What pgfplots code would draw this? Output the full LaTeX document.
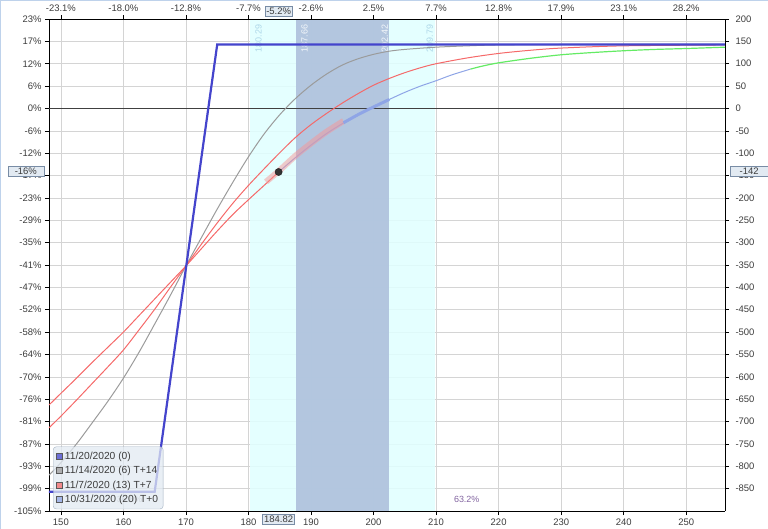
\documentclass[border=0pt]{standalone}
\usepackage{pgfplots}
\pgfplotsset{compat=1.18}
\usepackage{fontspec}
\setmainfont{Liberation Sans}
\definecolor{expblue}{RGB}{68,68,204}
\definecolor{tgray}{RGB}{155,155,155}
\definecolor{tred}{RGB}{245,105,105}
\definecolor{tlblue}{RGB}{143,165,230}
\definecolor{tgreen}{RGB}{100,235,100}
\definecolor{bandlight}{RGB}{224,255,255}
\definecolor{banddark}{RGB}{176,196,222}
\definecolor{gridc}{RGB}{212,212,212}
\definecolor{labc}{RGB}{60,60,60}
\definecolor{boxfill}{RGB}{226,234,242}
\definecolor{boxdraw}{RGB}{120,140,165}
\definecolor{framec}{RGB}{190,210,235}
\definecolor{probc}{RGB}{130,100,160}

\pgfplotsset{
 common/.style={
  scale only axis, width=676bp, height=492bp,
  xmin=148.1, xmax=256.2, ymin=-900, ymax=200,
  tick align=outside, major tick length=4bp,
  tick style={black, line width=0.6pt},
  axis line style={black, line width=0.8pt},
  ticklabel style={font=\fontsize{9.5}{10}\selectfont, text=labc},
  /pgf/number format/assume math mode=true,
 },
 swatch/.style={legend image code/.code={
   \draw[sharp corners, fill=#1, draw=black!65, line width=0.6bp] (0bp,-3bp) rectangle (6bp,3bp);}},
}

\begin{document}
\begin{tikzpicture}
\begin{axis}[common,
  axis x line*=bottom, axis y line*=left,
  xtick={150,160,...,250},
  ytick={-900,-850,...,200},
  yticklabels={-105\%,-99\%,-93\%,-87\%,-81\%,-76\%,-70\%,-64\%,-58\%,-52\%,-47\%,-41\%,-35\%,-29\%,-23\%,-17\%,-12\%,-6\%,0\%,6\%,12\%,17\%,23\%},
  grid=major, grid style={gridc, line width=0.6pt},
  legend cell align=left,
  legend style={at={(axis cs:148.75,-756)}, anchor=north west,
    draw=boxdraw!70, fill=boxfill, fill opacity=0.75, text opacity=1,
    rounded corners=3bp, font=\fontsize{10.3}{12}\selectfont, text=labc,
    row sep=1.5bp, inner xsep=3bp, inner ysep=3bp},
]
% standard deviation bands
\addplot[draw=none, fill=bandlight, fill opacity=0.88, forget plot]
  coordinates {(180.29,-900) (209.79,-900) (209.79,200) (180.29,200)} -- cycle;
\addplot[draw=none, fill=banddark, fill opacity=0.95, forget plot]
  coordinates {(187.66,-900) (202.42,-900) (202.42,200) (187.66,200)} -- cycle;

% zero line
\addplot[black!75, line width=1.2bp, forget plot] coordinates {(148.1,0) (256.2,0)};

% probability labels
\node[font=\fontsize{9}{10}\selectfont, text=black!35] at (axis cs:161.0,-875) {36.8\%};
\node[font=\fontsize{9}{10}\selectfont, text=probc] at (axis cs:214.9,-875) {63.2\%};

% band labels
\node[rotate=90, anchor=east, font=\fontsize{9}{10}\selectfont, text=black!25!cyan!35!white] at (axis cs:181.6,195) {180.29};
\node[rotate=90, anchor=east, font=\fontsize{9}{10}\selectfont, text=white!85!banddark] at (axis cs:188.95,195) {187.66};
\node[rotate=90, anchor=east, font=\fontsize{9}{10}\selectfont, text=white!85!banddark] at (axis cs:201.8,195) {202.42};
\node[rotate=90, anchor=east, font=\fontsize{9}{10}\selectfont, text=black!25!cyan!35!white] at (axis cs:209.0,195) {209.79};

% T+14 (gray)
\addplot[tgray, line width=1bp, smooth, tension=0.5, forget plot] coordinates {
(148.1,-820) (150,-792) (152.5,-750) (155,-703) (157.5,-655) (160,-603)
(162.5,-545) (165,-482) (167.5,-418) (170,-352) (172.5,-288) (175,-225)
(177.5,-165) (180,-108) (182.5,-57) (185,-14) (187.5,22) (190,52)
(192.5,77) (195,97) (197.5,111) (200,121) (202.5,128) (205,132)
(210,137) (215,140) (220,142) (230,143) (256.2,143)};

% T+7 (red)
\addplot[tred, line width=1bp, smooth, tension=0.5, forget plot] coordinates {
(148.1,-714) (150,-688) (152.5,-652) (155,-615) (157.5,-578) (160,-540)
(162.5,-495) (165,-449) (167.5,-400) (170,-352) (172.5,-303) (175,-256)
(177.5,-212) (180,-172) (182.5,-135) (185,-99) (187.5,-65) (190,-36)
(192.5,-11) (195,12) (197.5,33) (200,52) (202.5,67) (205,80)
(207.5,91) (210,100) (215,113) (220,123) (225,130) (230,135)
(240,140) (256.2,142)};

% T+0 (red / light blue / green)
\addplot[tred, line width=1bp, smooth, tension=0.5, forget plot] coordinates {
(148.1,-663) (150,-637) (152.5,-603) (155,-568) (157.5,-534) (160,-500)
(162.5,-463) (165,-426) (167.5,-389) (170,-352) (172.5,-313) (175,-274)
(177.5,-237) (180,-204) (182.5,-172) (184.82,-142)};
\addplot[tlblue, line width=1bp, smooth, tension=0.5, forget plot] coordinates {
(184.82,-142) (187.5,-110) (190,-82) (192.5,-56) (195,-34) (197.5,-14)
(199.5,0) (202.5,20) (205,36) (207.5,50) (210,62) (212.5,75) (215.5,88)};
\addplot[tgreen, line width=1.2bp, smooth, tension=0.5, forget plot] coordinates {
(215.5,88) (217.5,95) (220,102) (225,112) (230,120) (235,125)
(240,129) (245,132) (250,134) (256.2,137)};
% highlight of recent move
\addplot[tred!70, opacity=0.5, line width=6bp, smooth, forget plot] coordinates {
(182.8,-164) (185,-138) (187.5,-106) (190,-78) (192.5,-52) (195.2,-28)};
\addplot[tlblue, line width=3bp, smooth, forget plot] coordinates {
(195.2,-32) (197.5,-14) (199.5,0) (202.5,20)};

% expiration (blue)
\addplot[expblue, line width=2.2bp, forget plot] coordinates {
(148.1,-857) (165,-857) (175,143) (256.2,143)};

% current position marker
\addplot[only marks, mark=*, mark size=3.6bp, mark options={fill=black!80, draw=black!90}, forget plot]
  coordinates {(184.82,-142)};

\addlegendimage{swatch=expblue}
\addlegendentry{11/20/2020 (0)}
\addlegendimage{swatch=tgray}
\addlegendentry{11/14/2020 (6) T+14}
\addlegendimage{swatch=tred}
\addlegendentry{11/7/2020 (13) T+7}
\addlegendimage{swatch=tlblue}
\addlegendentry{10/31/2020 (20) T+0}
\end{axis}

\begin{axis}[common,
  axis x line*=top, axis y line*=right,
  xtick={150,160,...,250},
  xticklabels={-23.1\%,-18.0\%,-12.8\%,-7.7\%,-2.6\%,2.5\%,7.7\%,12.8\%,17.9\%,23.1\%,28.2\%},
  ytick={-850,-800,...,200},
  yticklabel style={xshift=3bp},
  clip=false,
]
\node[draw=boxdraw, fill=boxfill, inner sep=1.5bp, font=\fontsize{9.5}{10}\selectfont, text=labc, anchor=north]
  at (axis cs:184.82,-900) [yshift=-3bp] {184.82};
\node[draw=boxdraw, fill=boxfill, inner sep=1.5bp, font=\fontsize{9.5}{10}\selectfont, text=labc, anchor=south]
  at (axis cs:184.82,200) [yshift=3bp] {-5.2\%};
\node[draw=boxdraw, fill=boxfill, inner sep=1.5bp, font=\fontsize{9.5}{10}\selectfont, text=labc, anchor=east, minimum width=36bp]
  at (axis cs:148.1,-142) [xshift=-5bp, yshift=1bp] {-16\%};
\node[draw=boxdraw, fill=boxfill, inner sep=1.5bp, font=\fontsize{9.5}{10}\selectfont, text=labc, anchor=west, minimum width=38bp]
  at (axis cs:256.2,-142) [xshift=5bp, yshift=1bp] {-142};
\end{axis}

\draw[framec, line width=3bp] (-49bp,-18bp) -- (-49bp,511bp) -- (719bp,511bp);
\pgfresetboundingbox
\path (-49bp,-18bp) rectangle (719bp,511bp);
\end{tikzpicture}
\end{document}
